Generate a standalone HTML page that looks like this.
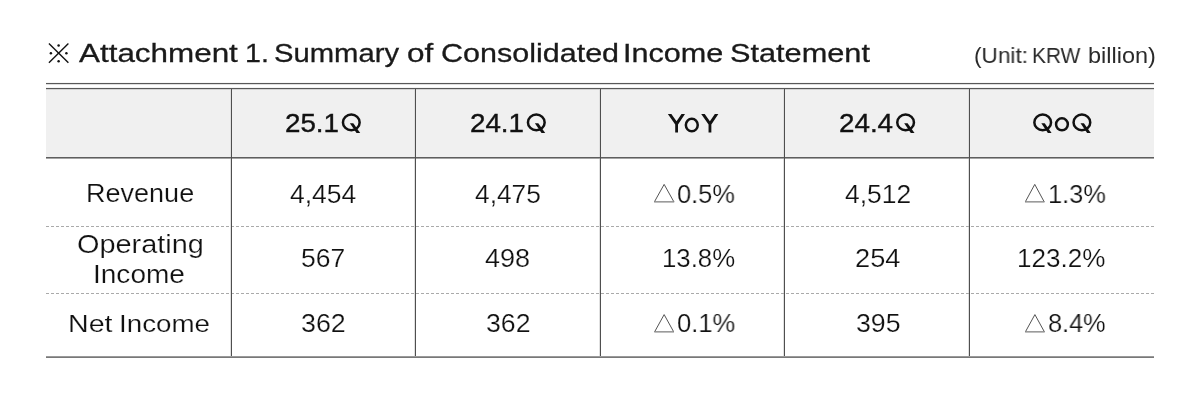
<!DOCTYPE html>
<html><head><meta charset="utf-8"><style>
html,body{margin:0;padding:0;background:#fff;width:1200px;height:400px;overflow:hidden;position:relative;}
.t{position:absolute;white-space:nowrap;font-family:'Liberation Sans', sans-serif;transform-origin:0 0;will-change:transform;}
.hl{position:absolute;height:1px;}
.vl{position:absolute;width:1px;}
</style></head><body>
<div style="position:absolute;left:46px;top:89px;width:1108px;height:68px;background:#f0f0f0"></div>
<div class="vl" style="left:230px;top:90px;height:266px;background:#e0e0e0"></div>
<div class="vl" style="left:414px;top:90px;height:266px;background:#e0e0e0"></div>
<div class="vl" style="left:599px;top:90px;height:266px;background:#e0e0e0"></div>
<div class="vl" style="left:783px;top:90px;height:266px;background:#e0e0e0"></div>
<div class="vl" style="left:968px;top:90px;height:266px;background:#e0e0e0"></div>
<div class="hl" style="left:46px;top:82px;width:1108px;background:#f6f6f6"></div>
<div class="hl" style="left:46px;top:83px;width:1108px;background:#585858"></div>
<div class="hl" style="left:46px;top:84px;width:1108px;background:#dedede"></div>
<div class="hl" style="left:46px;top:87px;width:1108px;background:#f4f4f4"></div>
<div class="hl" style="left:46px;top:88px;width:1108px;background:#585858"></div>
<div class="hl" style="left:46px;top:89px;width:1108px;background:#d2d2d2"></div>
<div class="hl" style="left:46px;top:157px;width:1108px;background:#5e5e5e"></div>
<div class="hl" style="left:46px;top:158px;width:1108px;background:#a4a4a4"></div>
<div class="hl" style="left:46px;top:226px;width:1108px;border-top:1px dashed #aaa;height:0"></div>
<div class="hl" style="left:46px;top:293px;width:1108px;border-top:1px dashed #aaa;height:0"></div>
<div class="hl" style="left:46px;top:356px;width:1108px;background:#9a9a9a"></div>
<div class="hl" style="left:46px;top:357px;width:1108px;background:#787878"></div>
<div class="vl" style="left:231px;top:89px;height:267px;background:#4f4f4f"></div>
<div class="vl" style="left:415px;top:89px;height:267px;background:#4f4f4f"></div>
<div class="vl" style="left:600px;top:89px;height:267px;background:#4f4f4f"></div>
<div class="vl" style="left:784px;top:89px;height:267px;background:#4f4f4f"></div>
<div class="vl" style="left:969px;top:89px;height:267px;background:#4f4f4f"></div>
<svg style="position:absolute;left:0;top:0" width="1200" height="400" viewBox="0 0 1200 400">
<g stroke="#111" stroke-width="1.4" stroke-linecap="butt"><line x1="48.9" y1="43.6" x2="68.4" y2="62.8"/><line x1="68.4" y1="43.6" x2="48.9" y2="62.8"/></g>
<g fill="#111"><circle cx="58.6" cy="45.6" r="1.25"/><circle cx="50.9" cy="53.3" r="1.25"/><circle cx="66.4" cy="53.3" r="1.25"/><circle cx="58.6" cy="61.2" r="1.25"/></g>
<polyline points="654.40,201.85 664.15,184.40 673.90,201.85" fill="none" stroke="#4a4a4a" stroke-width="0.95" stroke-linejoin="miter"/>
<line x1="654.10" y1="201.85" x2="674.20" y2="201.85" stroke="#8a8a8a" stroke-width="1.4"/>
<polyline points="1025.30,201.85 1034.75,184.40 1044.20,201.85" fill="none" stroke="#4a4a4a" stroke-width="0.95" stroke-linejoin="miter"/>
<line x1="1025.00" y1="201.85" x2="1044.50" y2="201.85" stroke="#8a8a8a" stroke-width="1.4"/>
<polyline points="654.60,331.85 664.15,314.60 673.70,331.85" fill="none" stroke="#4a4a4a" stroke-width="0.95" stroke-linejoin="miter"/>
<line x1="654.30" y1="331.85" x2="674.00" y2="331.85" stroke="#8a8a8a" stroke-width="1.4"/>
<polyline points="1025.40,331.85 1034.90,314.60 1044.40,331.85" fill="none" stroke="#4a4a4a" stroke-width="0.95" stroke-linejoin="miter"/>
<line x1="1025.10" y1="331.85" x2="1044.70" y2="331.85" stroke="#8a8a8a" stroke-width="1.4"/>
<ellipse cx="351.30" cy="122.38" rx="8.35" ry="7.88" fill="none" stroke="#111" stroke-width="2.5"/>
<polygon points="349.90,123.3 353.30,123.3 360.20,132.9 356.50,132.9" fill="#111"/>
<ellipse cx="536.30" cy="122.38" rx="8.35" ry="7.88" fill="none" stroke="#111" stroke-width="2.5"/>
<polygon points="534.90,123.3 538.30,123.3 545.20,132.9 541.50,132.9" fill="#111"/>
<ellipse cx="905.60" cy="122.38" rx="8.35" ry="7.88" fill="none" stroke="#111" stroke-width="2.5"/>
<polygon points="904.20,123.3 907.60,123.3 914.50,132.9 910.80,132.9" fill="#111"/>
<ellipse cx="1042.70" cy="122.38" rx="8.35" ry="7.88" fill="none" stroke="#111" stroke-width="2.5"/>
<polygon points="1041.30,123.3 1044.70,123.3 1051.60,132.9 1047.90,132.9" fill="#111"/>
<ellipse cx="1081.90" cy="122.38" rx="8.35" ry="7.88" fill="none" stroke="#111" stroke-width="2.5"/>
<polygon points="1080.50,123.3 1083.90,123.3 1090.80,132.9 1087.10,132.9" fill="#111"/>
<ellipse cx="1061.95" cy="124.30" rx="5.90" ry="5.95" fill="none" stroke="#111" stroke-width="2.5"/>
<polygon points="667.85,113.95 671.35,113.95 676.55,121.35 681.50,113.95 685.00,113.95 678.00,124.40 678.00,132.50 675.20,132.50 675.20,124.40" fill="#111"/>
<polygon points="701.20,113.95 704.70,113.95 709.90,121.35 714.85,113.95 718.35,113.95 711.35,124.40 711.35,132.50 708.55,132.50 708.55,124.40" fill="#111"/>
<ellipse cx="691.80" cy="125.05" rx="5.95" ry="6.30" fill="none" stroke="#111" stroke-width="2.5"/>
</svg>
<div class="t" style="left:79.09px;top:39.98px;font-size:26.594px;line-height:26.594px;font-weight:400;transform:scaleX(1.1814);color:#1a1a1a;-webkit-text-stroke:0.3px #1a1a1a;">Attachment</div>
<div class="t" style="left:244.60px;top:39.98px;font-size:26.594px;line-height:26.594px;font-weight:400;transform:scaleX(1.0776);color:#1a1a1a;-webkit-text-stroke:0.3px #1a1a1a;">1.</div>
<div class="t" style="left:273.53px;top:39.98px;font-size:26.594px;line-height:26.594px;font-weight:400;transform:scaleX(1.0996);color:#1a1a1a;-webkit-text-stroke:0.3px #1a1a1a;">Summary</div>
<div class="t" style="left:406.89px;top:39.98px;font-size:26.594px;line-height:26.594px;font-weight:400;transform:scaleX(1.1825);color:#1a1a1a;-webkit-text-stroke:0.3px #1a1a1a;">of</div>
<div class="t" style="left:440.52px;top:39.98px;font-size:26.594px;line-height:26.594px;font-weight:400;transform:scaleX(1.1478);color:#1a1a1a;-webkit-text-stroke:0.3px #1a1a1a;">Consolidated</div>
<div class="t" style="left:623.20px;top:39.98px;font-size:26.594px;line-height:26.594px;font-weight:400;transform:scaleX(1.1502);color:#1a1a1a;-webkit-text-stroke:0.3px #1a1a1a;">Income</div>
<div class="t" style="left:729.67px;top:39.98px;font-size:26.594px;line-height:26.594px;font-weight:400;transform:scaleX(1.1552);color:#1a1a1a;-webkit-text-stroke:0.3px #1a1a1a;">Statement</div>
<div class="t" style="left:974.14px;top:43.65px;font-size:22.899px;line-height:22.899px;font-weight:400;transform:scaleX(0.9884);color:#2a2a2a;">(Unit:</div>
<div class="t" style="left:1032.42px;top:43.65px;font-size:22.899px;line-height:22.899px;font-weight:400;transform:scaleX(0.9145);color:#2a2a2a;">KRW</div>
<div class="t" style="left:1087.57px;top:43.65px;font-size:22.899px;line-height:22.899px;font-weight:400;transform:scaleX(1.0250);color:#2a2a2a;">billion)</div>
<div class="t" style="left:284.71px;top:109.77px;font-size:26.667px;line-height:26.667px;font-weight:400;transform:scaleX(1.0407);color:#111;-webkit-text-stroke:0.4px #111;">25.1</div>
<div class="t" style="left:469.71px;top:109.77px;font-size:26.667px;line-height:26.667px;font-weight:400;transform:scaleX(1.0407);color:#111;-webkit-text-stroke:0.4px #111;">24.1</div>
<div class="t" style="left:839.11px;top:109.77px;font-size:26.667px;line-height:26.667px;font-weight:400;transform:scaleX(1.0416);color:#111;-webkit-text-stroke:0.4px #111;">24.4</div>
<div class="t" style="left:85.54px;top:181.10px;font-size:25.797px;line-height:25.797px;font-weight:400;transform:scaleX(1.0480);color:#111;-webkit-text-stroke:0.2px #fff;">Revenue</div>
<div class="t" style="left:76.60px;top:232.21px;font-size:25.072px;line-height:25.072px;font-weight:400;transform:scaleX(1.1527);color:#111;-webkit-text-stroke:0.2px #fff;">Operating</div>
<div class="t" style="left:93.28px;top:262.14px;font-size:24.928px;line-height:24.928px;font-weight:400;transform:scaleX(1.1250);color:#111;-webkit-text-stroke:0.2px #fff;">Income</div>
<div class="t" style="left:68.21px;top:312.46px;font-size:24.783px;line-height:24.783px;font-weight:400;transform:scaleX(1.1556);color:#111;-webkit-text-stroke:0.2px #fff;">Net</div>
<div class="t" style="left:119.30px;top:312.46px;font-size:24.783px;line-height:24.783px;font-weight:400;transform:scaleX(1.1201);color:#111;-webkit-text-stroke:0.2px #fff;">Income</div>
<div class="t" style="left:289.54px;top:180.56px;font-size:26.087px;line-height:26.087px;font-weight:400;transform:scaleX(1.0170);color:#111;-webkit-text-stroke:0.2px #fff;">4,454</div>
<div class="t" style="left:474.54px;top:180.56px;font-size:26.087px;line-height:26.087px;font-weight:400;transform:scaleX(1.0091);color:#111;-webkit-text-stroke:0.2px #fff;">4,475</div>
<div class="t" style="left:676.88px;top:180.56px;font-size:26.087px;line-height:26.087px;font-weight:400;transform:scaleX(0.9735);color:#111;-webkit-text-stroke:0.2px #fff;">0.5%</div>
<div class="t" style="left:844.54px;top:180.56px;font-size:26.087px;line-height:26.087px;font-weight:400;transform:scaleX(1.0133);color:#111;-webkit-text-stroke:0.2px #fff;">4,512</div>
<div class="t" style="left:1047.60px;top:180.56px;font-size:26.087px;line-height:26.087px;font-weight:400;transform:scaleX(0.9733);color:#111;-webkit-text-stroke:0.2px #fff;">1.3%</div>
<div class="t" style="left:300.64px;top:245.70px;font-size:25.797px;line-height:25.797px;font-weight:400;transform:scaleX(1.0280);color:#111;-webkit-text-stroke:0.2px #fff;">567</div>
<div class="t" style="left:485.42px;top:245.70px;font-size:25.797px;line-height:25.797px;font-weight:400;transform:scaleX(1.0491);color:#111;-webkit-text-stroke:0.2px #fff;">498</div>
<div class="t" style="left:661.67px;top:245.70px;font-size:25.797px;line-height:25.797px;font-weight:400;transform:scaleX(1.0000);color:#111;-webkit-text-stroke:0.2px #fff;">13.8%</div>
<div class="t" style="left:855.34px;top:245.70px;font-size:25.797px;line-height:25.797px;font-weight:400;transform:scaleX(1.0556);color:#111;-webkit-text-stroke:0.2px #fff;">254</div>
<div class="t" style="left:1017.14px;top:245.70px;font-size:25.797px;line-height:25.797px;font-weight:400;transform:scaleX(1.0105);color:#111;-webkit-text-stroke:0.2px #fff;">123.2%</div>
<div class="t" style="left:300.63px;top:310.90px;font-size:25.797px;line-height:25.797px;font-weight:400;transform:scaleX(1.0403);color:#111;-webkit-text-stroke:0.2px #fff;">362</div>
<div class="t" style="left:485.63px;top:310.90px;font-size:25.797px;line-height:25.797px;font-weight:400;transform:scaleX(1.0353);color:#111;-webkit-text-stroke:0.2px #fff;">362</div>
<div class="t" style="left:676.68px;top:310.90px;font-size:25.797px;line-height:25.797px;font-weight:400;transform:scaleX(0.9915);color:#111;-webkit-text-stroke:0.2px #fff;">0.1%</div>
<div class="t" style="left:855.63px;top:310.90px;font-size:25.797px;line-height:25.797px;font-weight:400;transform:scaleX(1.0370);color:#111;-webkit-text-stroke:0.2px #fff;">395</div>
<div class="t" style="left:1047.76px;top:310.90px;font-size:25.797px;line-height:25.797px;font-weight:400;transform:scaleX(0.9814);color:#111;-webkit-text-stroke:0.2px #fff;">8.4%</div>
</body></html>
